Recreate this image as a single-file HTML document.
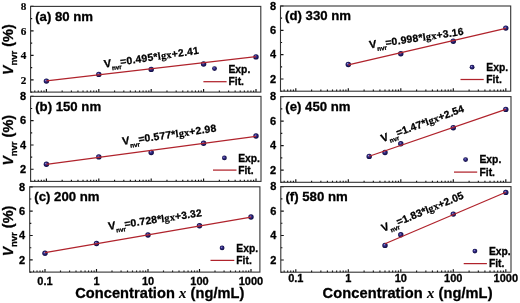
<!DOCTYPE html><html><head><meta charset="utf-8"><style>html,body{margin:0;padding:0;background:#fff;}svg{display:block;}</style></head><body>
<svg width="520" height="303" viewBox="0 0 520 303">
<defs><radialGradient id="g" cx="0.5" cy="0.5" r="0.5" fx="0.36" fy="0.32"><stop offset="0" stop-color="#a8a2e0"/><stop offset="0.35" stop-color="#3c3592"/><stop offset="0.75" stop-color="#1a1558"/><stop offset="1" stop-color="#100c3e"/></radialGradient></defs>
<style>.s{font-family:"Liberation Sans",Arial,sans-serif;font-weight:bold;stroke:#000;stroke-width:0.3px}.ti{font-family:"Liberation Serif","Times New Roman",serif;font-style:italic;font-weight:bold;stroke-width:0.1px}.tb{font-family:"Liberation Serif","Times New Roman",serif;font-weight:bold;stroke:#000;stroke-width:0.2px}</style>
<rect width="520" height="303" fill="#fff"/>
<path d="M30.60 92.10h1.6 M30.60 79.86h3.0 M30.60 67.61h1.6 M30.60 55.37h3.0 M30.60 43.13h1.6 M30.60 30.89h3.0 M30.60 18.64h1.6 M30.60 6.40h3.0 M34.78 92.10v-1.6 M38.28 92.10v-1.6 M41.32 92.10v-1.6 M44.00 92.10v-1.6 M46.40 92.10v-3.0 M62.17 92.10v-1.6 M71.40 92.10v-1.6 M77.95 92.10v-1.6 M83.03 92.10v-1.6 M87.18 92.10v-1.6 M90.68 92.10v-1.6 M93.72 92.10v-1.6 M96.40 92.10v-1.6 M98.80 92.10v-3.0 M114.57 92.10v-1.6 M123.80 92.10v-1.6 M130.35 92.10v-1.6 M135.43 92.10v-1.6 M139.58 92.10v-1.6 M143.08 92.10v-1.6 M146.12 92.10v-1.6 M148.80 92.10v-1.6 M151.20 92.10v-3.0 M166.97 92.10v-1.6 M176.20 92.10v-1.6 M182.75 92.10v-1.6 M187.83 92.10v-1.6 M191.98 92.10v-1.6 M195.48 92.10v-1.6 M198.52 92.10v-1.6 M201.20 92.10v-1.6 M203.60 92.10v-3.0 M219.37 92.10v-1.6 M228.60 92.10v-1.6 M235.15 92.10v-1.6 M240.23 92.10v-1.6 M244.38 92.10v-1.6 M247.88 92.10v-1.6 M250.92 92.10v-1.6 M253.60 92.10v-1.6 M256.00 92.10v-3.0" stroke="#111" stroke-width="1.15" fill="none"/>
<rect x="30.60" y="6.40" width="230.20" height="85.70" fill="none" stroke="#333" stroke-width="1.1"/>
<text x="26.30" y="83.56" text-anchor="end" class="tb" font-size="11.2">2</text>
<text x="26.30" y="59.07" text-anchor="end" class="tb" font-size="11.2">4</text>
<text x="26.30" y="34.59" text-anchor="end" class="tb" font-size="11.2">6</text>
<text x="26.30" y="10.10" text-anchor="end" class="tb" font-size="11.2">8</text>
<text x="35.20" y="20.70" class="s" font-size="13.2">(a) 80 nm</text>
<circle cx="46.40" cy="81.10" r="2.7" fill="url(#g)"/>
<circle cx="98.80" cy="74.40" r="2.7" fill="url(#g)"/>
<circle cx="151.20" cy="69.40" r="2.7" fill="url(#g)"/>
<circle cx="203.60" cy="64.00" r="2.7" fill="url(#g)"/>
<circle cx="256.00" cy="56.90" r="2.7" fill="url(#g)"/>
<line x1="46.40" y1="80.90" x2="256.00" y2="56.66" stroke="#b0232c" stroke-width="1.25"/>
<circle cx="214.5" cy="68.6" r="2.4" fill="url(#g)"/>
<text x="228.5" y="72.9" class="s" font-size="10.3">Exp.</text>
<line x1="203.4" y1="81.7" x2="226.6" y2="81.7" stroke="#b0232c" stroke-width="1.25"/>
<text x="228.5" y="84.9" class="s" font-size="10.3">Fit.</text>
<g transform="translate(120.70 65.30) rotate(-8.36)"><text x="-16.30" y="0.00" class="s" font-size="10.9">V<tspan font-size="6.3" dy="3.7">nvr</tspan></text><text class="s" font-size="10.3" letter-spacing="0.31">=0.495*<tspan class="tb">lgx</tspan>+2.41</text></g>
<path d="M30.60 181.40h1.6 M30.60 169.26h3.0 M30.60 157.11h1.6 M30.60 144.97h3.0 M30.60 132.83h1.6 M30.60 120.69h3.0 M30.60 108.54h1.6 M30.60 96.40h3.0 M34.78 181.40v-1.6 M38.28 181.40v-1.6 M41.32 181.40v-1.6 M44.00 181.40v-1.6 M46.40 181.40v-3.0 M62.17 181.40v-1.6 M71.40 181.40v-1.6 M77.95 181.40v-1.6 M83.03 181.40v-1.6 M87.18 181.40v-1.6 M90.68 181.40v-1.6 M93.72 181.40v-1.6 M96.40 181.40v-1.6 M98.80 181.40v-3.0 M114.57 181.40v-1.6 M123.80 181.40v-1.6 M130.35 181.40v-1.6 M135.43 181.40v-1.6 M139.58 181.40v-1.6 M143.08 181.40v-1.6 M146.12 181.40v-1.6 M148.80 181.40v-1.6 M151.20 181.40v-3.0 M166.97 181.40v-1.6 M176.20 181.40v-1.6 M182.75 181.40v-1.6 M187.83 181.40v-1.6 M191.98 181.40v-1.6 M195.48 181.40v-1.6 M198.52 181.40v-1.6 M201.20 181.40v-1.6 M203.60 181.40v-3.0 M219.37 181.40v-1.6 M228.60 181.40v-1.6 M235.15 181.40v-1.6 M240.23 181.40v-1.6 M244.38 181.40v-1.6 M247.88 181.40v-1.6 M250.92 181.40v-1.6 M253.60 181.40v-1.6 M256.00 181.40v-3.0" stroke="#111" stroke-width="1.15" fill="none"/>
<rect x="30.60" y="96.40" width="230.40" height="85.00" fill="none" stroke="#333" stroke-width="1.1"/>
<text x="26.10" y="173.06" text-anchor="end" class="s" font-size="11">2</text>
<text x="26.10" y="148.77" text-anchor="end" class="s" font-size="11">4</text>
<text x="26.10" y="124.49" text-anchor="end" class="s" font-size="11">6</text>
<text x="26.10" y="100.20" text-anchor="end" class="s" font-size="11">8</text>
<text x="35.20" y="110.70" class="s" font-size="13.2">(b) 150 nm</text>
<circle cx="46.40" cy="164.20" r="2.7" fill="url(#g)"/>
<circle cx="98.80" cy="156.90" r="2.7" fill="url(#g)"/>
<circle cx="151.20" cy="152.50" r="2.7" fill="url(#g)"/>
<circle cx="203.60" cy="143.30" r="2.7" fill="url(#g)"/>
<circle cx="256.00" cy="136.00" r="2.7" fill="url(#g)"/>
<line x1="46.40" y1="164.36" x2="256.00" y2="136.34" stroke="#b0232c" stroke-width="1.25"/>
<circle cx="224.4" cy="157.9" r="2.4" fill="url(#g)"/>
<text x="238.20000000000002" y="161.6" class="s" font-size="10.3">Exp.</text>
<line x1="213.0" y1="170.1" x2="236.5" y2="170.1" stroke="#b0232c" stroke-width="1.25"/>
<text x="238.20000000000002" y="173.9" class="s" font-size="10.3">Fit.</text>
<g transform="translate(138.90 142.75) rotate(-8.26)"><text x="-16.30" y="0.00" class="s" font-size="10.9">V<tspan font-size="6.3" dy="3.7">nvr</tspan></text><text class="s" font-size="10.3" letter-spacing="0.25">=0.577*<tspan class="tb">lgx</tspan>+2.98</text></g>
<path d="M29.70 272.10h1.6 M29.70 259.91h3.0 M29.70 247.73h1.6 M29.70 235.54h3.0 M29.70 223.36h1.6 M29.70 211.17h3.0 M29.70 198.99h1.6 M29.70 186.80h3.0 M33.57 272.10v-1.6 M37.02 272.10v-1.6 M40.01 272.10v-1.6 M42.64 272.10v-1.6 M45.00 272.10v-3.0 M60.50 272.10v-1.6 M69.57 272.10v-1.6 M76.01 272.10v-1.6 M81.00 272.10v-1.6 M85.07 272.10v-1.6 M88.52 272.10v-1.6 M91.51 272.10v-1.6 M94.14 272.10v-1.6 M96.50 272.10v-3.0 M112.00 272.10v-1.6 M121.07 272.10v-1.6 M127.51 272.10v-1.6 M132.50 272.10v-1.6 M136.57 272.10v-1.6 M140.02 272.10v-1.6 M143.01 272.10v-1.6 M145.64 272.10v-1.6 M148.00 272.10v-3.0 M163.50 272.10v-1.6 M172.57 272.10v-1.6 M179.01 272.10v-1.6 M184.00 272.10v-1.6 M188.07 272.10v-1.6 M191.52 272.10v-1.6 M194.51 272.10v-1.6 M197.14 272.10v-1.6 M199.50 272.10v-3.0 M215.00 272.10v-1.6 M224.07 272.10v-1.6 M230.51 272.10v-1.6 M235.50 272.10v-1.6 M239.57 272.10v-1.6 M243.02 272.10v-1.6 M246.01 272.10v-1.6 M248.64 272.10v-1.6 M251.00 272.10v-3.0" stroke="#111" stroke-width="1.15" fill="none"/>
<rect x="29.70" y="186.80" width="230.20" height="85.30" fill="none" stroke="#333" stroke-width="1.1"/>
<text x="25.20" y="263.71" text-anchor="end" class="s" font-size="11">2</text>
<text x="25.20" y="239.34" text-anchor="end" class="s" font-size="11">4</text>
<text x="25.20" y="214.97" text-anchor="end" class="s" font-size="11">6</text>
<text x="25.20" y="190.60" text-anchor="end" class="s" font-size="11">8</text>
<text x="34.30" y="201.10" class="s" font-size="13.2">(c) 200 nm</text>
<circle cx="45.00" cy="253.30" r="2.7" fill="url(#g)"/>
<circle cx="96.50" cy="243.50" r="2.7" fill="url(#g)"/>
<circle cx="148.00" cy="235.00" r="2.7" fill="url(#g)"/>
<circle cx="199.50" cy="225.80" r="2.7" fill="url(#g)"/>
<circle cx="251.00" cy="217.00" r="2.7" fill="url(#g)"/>
<line x1="45.00" y1="252.70" x2="251.00" y2="217.22" stroke="#b0232c" stroke-width="1.25"/>
<circle cx="222.1" cy="247.9" r="2.4" fill="url(#g)"/>
<text x="236.3" y="251.9" class="s" font-size="10.3">Exp.</text>
<line x1="210.5" y1="260.4" x2="234.3" y2="260.4" stroke="#b0232c" stroke-width="1.25"/>
<text x="236.3" y="264.1" class="s" font-size="10.3">Fit.</text>
<g transform="translate(124.90 227.60) rotate(-8.43)"><text x="-16.30" y="0.00" class="s" font-size="10.9">V<tspan font-size="6.3" dy="3.7">nvr</tspan></text><text class="s" font-size="10.3" letter-spacing="0.22">=0.728*<tspan class="tb">lgx</tspan>+3.32</text></g>
<path d="M280.50 91.20h1.6 M280.50 79.03h3.0 M280.50 66.86h1.6 M280.50 54.69h3.0 M280.50 42.51h1.6 M280.50 30.34h3.0 M280.50 18.17h1.6 M280.50 6.00h3.0 M284.15 91.20v-1.6 M287.67 91.20v-1.6 M290.71 91.20v-1.6 M293.40 91.20v-1.6 M295.80 91.20v-3.0 M311.60 91.20v-1.6 M320.85 91.20v-1.6 M327.41 91.20v-1.6 M332.50 91.20v-1.6 M336.65 91.20v-1.6 M340.17 91.20v-1.6 M343.21 91.20v-1.6 M345.90 91.20v-1.6 M348.30 91.20v-3.0 M364.10 91.20v-1.6 M373.35 91.20v-1.6 M379.91 91.20v-1.6 M385.00 91.20v-1.6 M389.15 91.20v-1.6 M392.67 91.20v-1.6 M395.71 91.20v-1.6 M398.40 91.20v-1.6 M400.80 91.20v-3.0 M416.60 91.20v-1.6 M425.85 91.20v-1.6 M432.41 91.20v-1.6 M437.50 91.20v-1.6 M441.65 91.20v-1.6 M445.17 91.20v-1.6 M448.21 91.20v-1.6 M450.90 91.20v-1.6 M453.30 91.20v-3.0 M469.10 91.20v-1.6 M478.35 91.20v-1.6 M484.91 91.20v-1.6 M490.00 91.20v-1.6 M494.15 91.20v-1.6 M497.67 91.20v-1.6 M500.71 91.20v-1.6 M503.40 91.20v-1.6 M505.80 91.20v-3.0" stroke="#111" stroke-width="1.15" fill="none"/>
<rect x="280.50" y="6.00" width="230.20" height="85.20" fill="none" stroke="#333" stroke-width="1.1"/>
<text x="276.00" y="82.83" text-anchor="end" class="s" font-size="11">2</text>
<text x="276.00" y="58.49" text-anchor="end" class="s" font-size="11">4</text>
<text x="276.00" y="34.14" text-anchor="end" class="s" font-size="11">6</text>
<text x="276.00" y="9.80" text-anchor="end" class="s" font-size="11">8</text>
<text x="285.10" y="20.30" class="s" font-size="13.2">(d) 330 nm</text>
<circle cx="348.30" cy="64.50" r="2.7" fill="url(#g)"/>
<circle cx="400.80" cy="53.80" r="2.7" fill="url(#g)"/>
<circle cx="453.30" cy="41.20" r="2.7" fill="url(#g)"/>
<circle cx="505.80" cy="28.10" r="2.7" fill="url(#g)"/>
<line x1="348.30" y1="64.91" x2="505.80" y2="28.47" stroke="#b0232c" stroke-width="1.25"/>
<circle cx="472.1" cy="67.2" r="2.4" fill="url(#g)"/>
<text x="486.29999999999995" y="71.0" class="s" font-size="10.3">Exp.</text>
<line x1="460.5" y1="79.5" x2="483.7" y2="79.5" stroke="#b0232c" stroke-width="1.25"/>
<text x="486.29999999999995" y="83.2" class="s" font-size="10.3">Fit.</text>
<g transform="translate(385.90 46.15) rotate(-8.31)"><text x="-16.30" y="0.00" class="s" font-size="10.9">V<tspan font-size="6.3" dy="3.7">nvr</tspan></text><text class="s" font-size="10.3" letter-spacing="0.27">=0.998*<tspan class="tb">lgx</tspan>+3.16</text></g>
<path d="M280.70 182.30h1.6 M280.70 170.06h3.0 M280.70 157.81h1.6 M280.70 145.57h3.0 M280.70 133.33h1.6 M280.70 121.09h3.0 M280.70 108.84h1.6 M280.70 96.60h3.0 M284.15 182.30v-1.6 M287.67 182.30v-1.6 M290.71 182.30v-1.6 M293.40 182.30v-1.6 M295.80 182.30v-3.0 M311.60 182.30v-1.6 M320.85 182.30v-1.6 M327.41 182.30v-1.6 M332.50 182.30v-1.6 M336.65 182.30v-1.6 M340.17 182.30v-1.6 M343.21 182.30v-1.6 M345.90 182.30v-1.6 M348.30 182.30v-3.0 M364.10 182.30v-1.6 M373.35 182.30v-1.6 M379.91 182.30v-1.6 M385.00 182.30v-1.6 M389.15 182.30v-1.6 M392.67 182.30v-1.6 M395.71 182.30v-1.6 M398.40 182.30v-1.6 M400.80 182.30v-3.0 M416.60 182.30v-1.6 M425.85 182.30v-1.6 M432.41 182.30v-1.6 M437.50 182.30v-1.6 M441.65 182.30v-1.6 M445.17 182.30v-1.6 M448.21 182.30v-1.6 M450.90 182.30v-1.6 M453.30 182.30v-3.0 M469.10 182.30v-1.6 M478.35 182.30v-1.6 M484.91 182.30v-1.6 M490.00 182.30v-1.6 M494.15 182.30v-1.6 M497.67 182.30v-1.6 M500.71 182.30v-1.6 M503.40 182.30v-1.6 M505.80 182.30v-3.0" stroke="#111" stroke-width="1.15" fill="none"/>
<rect x="280.70" y="96.60" width="230.30" height="85.70" fill="none" stroke="#333" stroke-width="1.1"/>
<text x="276.20" y="173.86" text-anchor="end" class="s" font-size="11">2</text>
<text x="276.20" y="149.37" text-anchor="end" class="s" font-size="11">4</text>
<text x="276.20" y="124.89" text-anchor="end" class="s" font-size="11">6</text>
<text x="276.20" y="100.40" text-anchor="end" class="s" font-size="11">8</text>
<text x="285.30" y="110.90" class="s" font-size="13.2">(e) 450 nm</text>
<circle cx="369.19" cy="156.40" r="2.7" fill="url(#g)"/>
<circle cx="385.00" cy="152.50" r="2.7" fill="url(#g)"/>
<circle cx="400.80" cy="143.80" r="2.7" fill="url(#g)"/>
<circle cx="453.30" cy="127.70" r="2.7" fill="url(#g)"/>
<circle cx="505.80" cy="109.40" r="2.7" fill="url(#g)"/>
<line x1="369.19" y1="156.28" x2="505.80" y2="109.45" stroke="#b0232c" stroke-width="1.25"/>
<circle cx="465.6" cy="159.6" r="2.4" fill="url(#g)"/>
<text x="479.5" y="163.2" class="s" font-size="10.3">Exp.</text>
<line x1="454.0" y1="172.1" x2="477.2" y2="172.1" stroke="#b0232c" stroke-width="1.25"/>
<text x="479.5" y="175.8" class="s" font-size="10.3">Fit.</text>
<g transform="translate(397.70 136.45) rotate(-20.38)"><text x="-16.30" y="0.00" class="s" font-size="10.9">V<tspan font-size="6.3" dy="3.7">nvr</tspan></text><text class="s" font-size="10.3" letter-spacing="0.17">=1.47*<tspan class="tb">lgx</tspan>+2.54</text></g>
<path d="M280.80 272.20h1.6 M280.80 259.97h3.0 M280.80 247.74h1.6 M280.80 235.51h3.0 M280.80 223.29h1.6 M280.80 211.06h3.0 M280.80 198.83h1.6 M280.80 186.60h3.0 M284.15 272.20v-1.6 M287.67 272.20v-1.6 M290.71 272.20v-1.6 M293.40 272.20v-1.6 M295.80 272.20v-3.0 M311.60 272.20v-1.6 M320.85 272.20v-1.6 M327.41 272.20v-1.6 M332.50 272.20v-1.6 M336.65 272.20v-1.6 M340.17 272.20v-1.6 M343.21 272.20v-1.6 M345.90 272.20v-1.6 M348.30 272.20v-3.0 M364.10 272.20v-1.6 M373.35 272.20v-1.6 M379.91 272.20v-1.6 M385.00 272.20v-1.6 M389.15 272.20v-1.6 M392.67 272.20v-1.6 M395.71 272.20v-1.6 M398.40 272.20v-1.6 M400.80 272.20v-3.0 M416.60 272.20v-1.6 M425.85 272.20v-1.6 M432.41 272.20v-1.6 M437.50 272.20v-1.6 M441.65 272.20v-1.6 M445.17 272.20v-1.6 M448.21 272.20v-1.6 M450.90 272.20v-1.6 M453.30 272.20v-3.0 M469.10 272.20v-1.6 M478.35 272.20v-1.6 M484.91 272.20v-1.6 M490.00 272.20v-1.6 M494.15 272.20v-1.6 M497.67 272.20v-1.6 M500.71 272.20v-1.6 M503.40 272.20v-1.6 M505.80 272.20v-3.0" stroke="#111" stroke-width="1.15" fill="none"/>
<rect x="280.80" y="186.60" width="230.20" height="85.60" fill="none" stroke="#333" stroke-width="1.1"/>
<text x="276.30" y="263.77" text-anchor="end" class="s" font-size="11">2</text>
<text x="276.30" y="239.31" text-anchor="end" class="s" font-size="11">4</text>
<text x="276.30" y="214.86" text-anchor="end" class="s" font-size="11">6</text>
<text x="276.30" y="190.40" text-anchor="end" class="s" font-size="11">8</text>
<text x="285.40" y="200.90" class="s" font-size="13.2">(f) 580 nm</text>
<circle cx="385.00" cy="245.40" r="2.7" fill="url(#g)"/>
<circle cx="400.80" cy="234.80" r="2.7" fill="url(#g)"/>
<circle cx="453.30" cy="214.10" r="2.7" fill="url(#g)"/>
<circle cx="505.80" cy="192.40" r="2.7" fill="url(#g)"/>
<line x1="385.00" y1="243.72" x2="505.80" y2="192.23" stroke="#b0232c" stroke-width="1.25"/>
<circle cx="474.9" cy="251.1" r="2.4" fill="url(#g)"/>
<text x="488.9" y="255.1" class="s" font-size="10.3">Exp.</text>
<line x1="463.7" y1="263.6" x2="486.9" y2="263.6" stroke="#b0232c" stroke-width="1.25"/>
<text x="488.9" y="267.1" class="s" font-size="10.3">Fit.</text>
<g transform="translate(398.30 225.60) rotate(-22.69)"><text x="-16.30" y="0.00" class="s" font-size="10.9">V<tspan font-size="6.3" dy="3.7">nvr</tspan></text><text class="s" font-size="10.3" letter-spacing="0.18">=1.83*<tspan class="tb">lgx</tspan>+2.05</text></g>
<text transform="translate(12.5 49.55) rotate(-90)" text-anchor="middle" class="s" font-size="14"><tspan font-style="italic">V</tspan><tspan font-size="9.5" dy="4.6">nvr</tspan><tspan dy="-4.6" font-size="14.5"> (%)</tspan></text>
<text transform="translate(12.5 140.20) rotate(-90)" text-anchor="middle" class="s" font-size="14"><tspan font-style="italic">V</tspan><tspan font-size="9.5" dy="4.6">nvr</tspan><tspan dy="-4.6" font-size="14.5"> (%)</tspan></text>
<text transform="translate(12.5 230.95) rotate(-90)" text-anchor="middle" class="s" font-size="14"><tspan font-style="italic">V</tspan><tspan font-size="9.5" dy="4.6">nvr</tspan><tspan dy="-4.6" font-size="14.5"> (%)</tspan></text>
<text x="45.00" y="284.90" text-anchor="middle" class="s" font-size="11">0.1</text>
<text x="96.50" y="284.90" text-anchor="middle" class="s" font-size="11">1</text>
<text x="148.00" y="284.90" text-anchor="middle" class="s" font-size="11">10</text>
<text x="199.50" y="284.90" text-anchor="middle" class="s" font-size="11">100</text>
<text x="251.00" y="284.90" text-anchor="middle" class="s" font-size="11">1000</text>
<text x="295.80" y="282.10" text-anchor="middle" class="s" font-size="11">0.1</text>
<text x="348.30" y="282.10" text-anchor="middle" class="s" font-size="11">1</text>
<text x="400.80" y="282.10" text-anchor="middle" class="s" font-size="11">10</text>
<text x="453.30" y="282.10" text-anchor="middle" class="s" font-size="11">100</text>
<text x="505.80" y="282.10" text-anchor="middle" class="s" font-size="11">1000</text>
<text x="75.2" y="297.9" textLength="169.2" lengthAdjust="spacing" class="s" font-size="14.6">Concentration <tspan class="ti">x</tspan> (ng/mL)</text>
<text x="322.6" y="297.9" textLength="169.9" lengthAdjust="spacing" class="s" font-size="14.6">Concentration <tspan class="ti">x</tspan> (ng/mL)</text>
</svg></body></html>
